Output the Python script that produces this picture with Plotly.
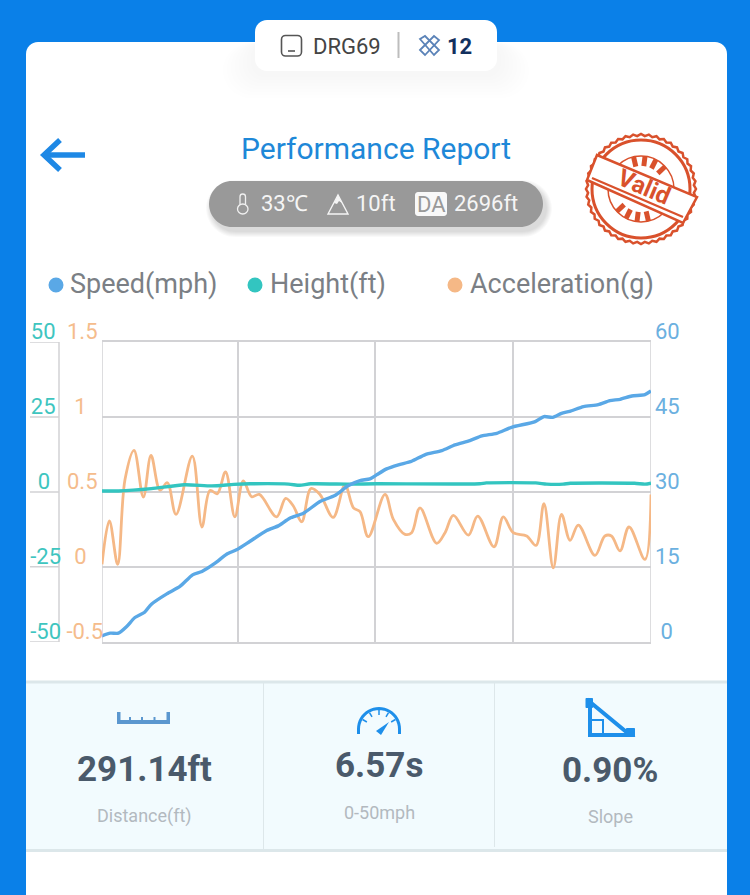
import math
import plotly.graph_objects as go

W, H = 750, 895

# ---------- chart data (time as % of run) ----------
accel_t = [0, 1.34, 2.85, 4.19, 5.83, 7.53, 8.93, 10.57, 11.9, 13.48, 16.45, 18.2, 19.67, 21.0, 22.5, 24.2,
           25.74, 27.26, 28.66, 31.8, 33.46, 34.85, 36.37, 38.07, 39.7, 42.1, 44.26, 45.8, 47.0, 48.5,
           51.55, 53.07, 55.19, 56.4, 57.92, 60.96, 62.48, 64.0, 66.73, 68.43, 71.4, 73.1, 74.9, 77.35,
           79.05, 80.5, 82.2, 83.7, 85.25, 86.76, 89.8, 91.6, 92.8, 94.35, 96.0, 98.9, 100]
accel_g = [0.017, 0.306, 0.017, 0.583, 0.777, 0.466, 0.743, 0.512, 0.561, 0.35, 0.739, 0.266, 0.51, 0.488, 0.634, 0.334,
           0.574, 0.468, 0.483, 0.334, 0.457, 0.406, 0.301, 0.523, 0.483, 0.33, 0.546, 0.394, 0.368, 0.201,
           0.483, 0.317, 0.217, 0.228, 0.394, 0.157, 0.228, 0.343, 0.212, 0.339, 0.134, 0.334, 0.228, 0.206,
           0.143, 0.421, -0.006, 0.35, 0.177, 0.279, 0.077, 0.206, 0.206, 0.106, 0.266, 0.05, 0.483]

speed_t = [0, 1.5, 3, 4.5, 6, 7.7, 9, 11.8, 14.2, 16.5, 18.2, 20.6, 22.7, 24.5, 26.9, 30, 32.1, 34.2, 36.7, 39.7,
           42.4, 44.9, 47, 48.8, 50, 51.85, 54, 56.4, 58.9, 61.9, 64.3, 67, 69.2, 71.9, 74.6, 78.9, 80.5, 82.1, 83.7,
           85.2, 87.7, 90.4, 92.5, 94.4, 96.5, 98.9, 100]
speed_mph = [1.2, 1.73, 1.73, 3.07, 4.87, 5.87, 7.53, 9.6, 11.07, 13.4, 14.07, 15.73, 17.53, 18.4, 20.07, 22.27,
             23.2, 24.73, 25.73, 28.07, 29.27, 31.27, 32.27, 32.6, 33.4, 34.6, 35.4, 36.13, 37.47, 38.27, 39.4,
             40.27, 41.2, 41.73, 42.93, 44.07, 45.07, 44.93, 45.73, 46.13, 47.07, 47.47, 48.27, 48.53, 49.2, 49.47, 50.2]

height_t = [0, 3, 9, 15, 20, 24, 27, 34, 36, 38, 45, 50, 68.8, 70, 79, 81, 84, 85.3, 97, 98.9, 100]
height_ft = [0.3, 0.3, 1.1, 2.4, 2.0, 2.5, 2.7, 2.6, 2.2, 2.7, 2.6, 2.7, 2.7, 3.0, 3.0, 2.6, 2.6, 2.9, 2.9, 2.6, 2.9]

x_grid = [24.85, 49.75, 74.8]
height_ticks = [-50, -25, 0, 25, 50]
height_labels = ["-50", "-25", "0\u00a0\u00a0", "25\u00a0", "50\u00a0"]
accel_ticks = [-0.5, 0, 0.5, 1, 1.5]
accel_labels = ["-0.5", "0\u00a0\u00a0\u00a0", "0.5\u00a0", "1\u00a0\u00a0\u00a0", "1.5\u00a0"]
speed_ticks = [0, 15, 30, 45, 60]
speed_labels = ["\u00a00", "15", "30", "45", "60"]

C_SPEED, C_HEIGHT, C_ACCEL = "#5AA8E6", "#33C5C0", "#F5B886"
GRID = "#D2D2D5"
BLUE = "#0A80E8"


def X(x):
    return x / W


def Y(y):
    return 1 - y / H


def rrect(x0, y0, x1, y1, r):
    c = 0.45 * r
    return (f"M{X(x0+r)},{Y(y0)} L{X(x1-r)},{Y(y0)} C{X(x1-c)},{Y(y0)} {X(x1)},{Y(y0+c)} {X(x1)},{Y(y0+r)} "
            f"L{X(x1)},{Y(y1-r)} C{X(x1)},{Y(y1-c)} {X(x1-c)},{Y(y1)} {X(x1-r)},{Y(y1)} "
            f"L{X(x0+r)},{Y(y1)} C{X(x0+c)},{Y(y1)} {X(x0)},{Y(y1-c)} {X(x0)},{Y(y1-r)} "
            f"L{X(x0)},{Y(y0+r)} C{X(x0)},{Y(y0+c)} {X(x0+c)},{Y(y0)} {X(x0+r)},{Y(y0)} Z")


def poly(pts, close=True):
    s = "M" + " L".join(f"{X(a)},{Y(b)}" for a, b in pts)
    return s + (" Z" if close else "")


shapes = []


def fill(path, color, opacity=1):
    shapes.append(dict(type="path", xref="paper", yref="paper", path=path, fillcolor=color,
                       line=dict(width=0), opacity=opacity, layer="below"))


def stroke(path, color, w=1.5, fillc="rgba(0,0,0,0)"):
    shapes.append(dict(type="path", xref="paper", yref="paper", path=path, fillcolor=fillc,
                       line=dict(color=color, width=w), layer="below"))


def seg(x0, y0, x1, y1, color, w=1.5):
    stroke(poly([(x0, y0), (x1, y1)], close=False), color, w)


# background card
fill(rrect(26, 42, 727, 960, 12), "#FFFFFF")
# header pill + soft shadow, clipped to the card by starting just below its top edge
for i in range(8, 0, -1):
    fill(rrect(255 - 4 * i, 43, 497 + 4 * i, 71 + 3 * i + 3, 12 + 2 * i), "#5A6A80", 0.007)
fill(rrect(255, 20, 497, 71, 12), "#FFFFFF")
stroke(rrect(281.5, 35.5, 301.5, 56, 4), "#555555", 1.6)
seg(288, 51, 295, 51, "#555555", 1.6)
seg(398.5, 32, 398.5, 58, "#BDBDBD", 2)
stroke(poly([(420, 39), (425, 36), (439, 50), (434, 55)]), "#5B83B8", 1.8)
stroke(poly([(420, 50), (434, 36), (439, 40), (425, 55)]), "#5B83B8", 1.8)

# back arrow
stroke(poly([(85, 155), (44, 155)], close=False), "#1E88E5", 5.5)
stroke(poly([(60, 140), (44, 155), (60, 170)], close=False), "#1E88E5", 5.5)

# conditions pill
for i in range(6, 0, -1):
    fill(rrect(212 - i, 186 - i, 546 + i, 231 + i, 23 + i), "#000000", 0.025)
fill(rrect(209, 181, 543, 227, 23), "#999999")
stroke(rrect(240, 194, 245.5, 207, 2.7), "#F0F0F0", 1.3)
shapes.append(dict(type="circle", xref="paper", yref="paper", x0=X(237.5), x1=X(248), y0=Y(204), y1=Y(214),
                   line=dict(color="#F0F0F0", width=1.3), fillcolor="#999999", layer="below"))
stroke(poly([(328, 214), (338, 195), (348, 214)]), "#F5F5F5", 1.4)
fill(poly([(334, 203), (338, 195), (342, 203), (339, 201), (337, 204)]), "#F5F5F5")
fill(rrect(415, 192, 447, 216, 3), "#F8F8F8")

# stamp
RED = "#D9512C"
cx, cy = 641, 189
gear = []
for i in range(88):
    r = 55 if i % 2 == 0 else 53
    a = 2 * math.pi * i / 88
    gear.append((cx + r * math.cos(a), cy + r * math.sin(a)))
stroke(poly(gear), RED, 2.5, "#FFFFFF")
shapes.append(dict(type="circle", xref="paper", yref="paper", x0=X(cx - 49), x1=X(cx + 49), y0=Y(cy - 49),
                   y1=Y(cy + 49), line=dict(color=RED, width=3), layer="below"))
shapes.append(dict(type="circle", xref="paper", yref="paper", x0=X(cx - 33), x1=X(cx + 33), y0=Y(cy - 33),
                   y1=Y(cy + 33), line=dict(color=RED, width=1.5), layer="below"))
for deg in (-125, -105, -85, -65, 55, 75, 95, 115):
    a = math.radians(deg + 22)
    seg(cx + 23 * math.cos(a), cy + 23 * math.sin(a), cx + 33 * math.cos(a), cy + 33 * math.sin(a), RED, 5)
stroke(poly([(597, 155), (697, 197), (683, 223), (587, 180)]), RED, 2.5, "#FFFFFF")
seg(592, 178, 683, 217, RED, 2.2)

# metric tiles
fill(f"M{X(26)},{Y(682)} L{X(727)},{Y(682)} L{X(727)},{Y(850)} L{X(26)},{Y(850)} Z", "#F2FBFE")
seg(26, 682, 727, 682, "#DCE7EA", 3)
seg(26, 850.5, 727, 850.5, "#DCE7EA", 3)
seg(263.5, 683, 263.5, 849, "#DDE7EA", 1)
seg(494.5, 683, 494.5, 847, "#DDE7EA", 1)

# ruler
fill(poly([(117, 720), (170, 720), (170, 724), (117, 724)]), "#5B97CF")
for x0_, x1_, top in ((117, 120.5, 712), (129, 131, 717), (141, 143, 717), (153.5, 155.5, 717), (166.5, 170, 712)):
    fill(poly([(x0_, top), (x1_, top), (x1_, 721), (x0_, 721)]), "#5B97CF")

# gauge
pts = []
for i in range(0, 25):
    a = math.radians(180 + 180 * i / 24)
    pts.append((379 + 20.5 * math.cos(a), 729 + 20.5 * math.sin(a)))
stroke(poly([(358.5, 734)] + pts + [(399.5, 734)], close=False), "#1E8FEA", 3)
fill(poly([(376, 731), (389, 722), (381, 735)]), "#1E8FEA")
for deg in (-150, -120, -90, -60, -30):
    a = math.radians(deg)
    seg(379 + 14 * math.cos(a), 729 + 14 * math.sin(a), 379 + 19 * math.cos(a), 729 + 19 * math.sin(a), "#1E8FEA", 1.5)

# slope icon
stroke(poly([(590, 702), (590, 735), (630, 735)]), "#1E8FEA", 4)
fill(rrect(585.5, 698, 593, 708, 1), "#1E8FEA")
fill(rrect(626, 728, 635, 737, 1), "#1E8FEA")
stroke(poly([(590, 720), (603, 720), (603, 735)], close=False), "#1E8FEA", 2)

# plot helpers: height axis line and its ticks, drawn on the height scale
seg(59, 342, 59, 642, GRID, 1.5)
for v in height_ticks:
    shapes.append(dict(type="line", xref="paper", yref="y2", x0=X(30), x1=X(59), y0=v, y1=v,
                       line=dict(color=GRID, width=1.5), layer="below"))
# left and right plot borders
for v in (0, 100):
    shapes.append(dict(type="line", xref="x", yref="paper", x0=v, x1=v, y0=Y(642), y1=Y(342),
                       line=dict(color=GRID, width=1.5), layer="below"))

# legend markers
for mx, c in ((56, C_SPEED), (255, C_HEIGHT), (455, C_ACCEL)):
    shapes.append(dict(type="circle", xref="paper", yref="paper", x0=X(mx - 7.5), x1=X(mx + 7.5),
                       y0=Y(285 - 7.5), y1=Y(285 + 7.5), fillcolor=c, line=dict(width=0), layer="below"))


def text(x, y, s, size, color, anchor="center", family="Roboto", angle=0):
    return dict(x=X(x), y=Y(y), xref="paper", yref="paper", text=s, showarrow=False, textangle=angle,
                font=dict(size=size, color=color, family=family), xanchor=anchor, yanchor="middle")


annotations = [
    text(311, 46, "DRG69", 22, "#444444", "left"),
    text(445, 46, "<b>12</b>", 22, "#12305E", "left"),
    text(376, 148, "Performance Report", 30, "#1E88D8"),
    text(259, 204, "33℃", 22, "#F5F5F5", "left"),
    text(354, 204, "10ft", 22, "#F5F5F5", "left"),
    text(431, 204.5, "DA", 22, "#999999"),
    text(452, 204, "2696ft", 22, "#F5F5F5", "left"),
    text(644, 187, "<b>Valid</b>", 24, RED, angle=23),
    text(68, 284, "Speed(mph)", 27, "#7B7F85", "left"),
    text(268, 284, "Height(ft)", 27, "#7B7F85", "left"),
    text(468, 284, "Acceleration(g)", 27, "#7B7F85", "left"),
    text(144, 769, "<b>291.14ft</b>", 35, "#4A5A6B"),
    text(379, 765, "<b>6.57s</b>", 35, "#4A5A6B"),
    text(610, 770, "<b>0.90%</b>", 35, "#4A5A6B"),
    text(144, 816, "Distance(ft)", 18, "#B2B9BF"),
    text(379, 812, "0-50mph", 18, "#B2B9BF"),
    text(610, 816, "Slope", 18, "#B2B9BF"),
]

fig = go.Figure()
fig.add_trace(go.Scatter(x=height_t, y=height_ft, name="Height(ft)", yaxis="y2", mode="lines",
                         line=dict(color=C_HEIGHT, width=3.4, shape="spline", smoothing=0.6)))
fig.add_trace(go.Scatter(x=accel_t, y=accel_g, name="Acceleration(g)", yaxis="y", mode="lines",
                         line=dict(color=C_ACCEL, width=2.8, shape="spline", smoothing=1)))
fig.add_trace(go.Scatter(x=speed_t, y=speed_mph, name="Speed(mph)", yaxis="y3", mode="lines",
                         line=dict(color=C_SPEED, width=3.4, shape="spline", smoothing=0.6)))

dom = [Y(641.8), Y(342)]
fig.update_layout(
    width=W, height=H, margin=dict(l=0, r=0, t=0, b=0, pad=0), autosize=False,
    paper_bgcolor=BLUE, plot_bgcolor="rgba(0,0,0,0)", showlegend=False,
    font=dict(family="Roboto"),
    xaxis=dict(domain=[X(102), X(651)], range=[0, 100], tickvals=x_grid, showgrid=True, gridcolor=GRID, gridwidth=1.5,
               showticklabels=False, ticks="", showline=True, linecolor=GRID, linewidth=1.5, mirror=True, zeroline=False,
               automargin=False),
    yaxis=dict(domain=dom, range=[-0.5, 1.5], tickvals=accel_ticks, ticktext=accel_labels, anchor="free", position=X(103),
               ticklabelposition="outside top", ticklabelshift=5, showgrid=True, gridcolor=GRID, gridwidth=1.5, zeroline=False, ticks="",
               tickfont=dict(size=22, color="#F5BC8C", family="Roboto"), showline=False, automargin=False),
    yaxis2=dict(domain=dom, range=[-50, 50], tickvals=height_ticks, ticktext=height_labels, anchor="free", position=X(61),
                overlaying="y", side="left", ticklabelposition="outside top", ticklabelshift=5, showgrid=False, zeroline=False, ticks="",
                tickfont=dict(size=22, color="#3EC5BF", family="Roboto"), automargin=False),
    yaxis3=dict(domain=dom, range=[0, 60], tickvals=speed_ticks, ticktext=speed_labels, anchor="free", position=X(654),
                overlaying="y", side="right", ticklabelposition="outside top", ticklabelshift=5, showgrid=False, zeroline=False, ticks="",
                tickfont=dict(size=22, color="#6BB0E0", family="Roboto"), automargin=False),
    shapes=shapes, annotations=annotations,
)

fig.write_html("out.html", config={"displayModeBar": False},
               post_script="document.body.style.margin='0';document.documentElement.style.overflow='hidden';")
